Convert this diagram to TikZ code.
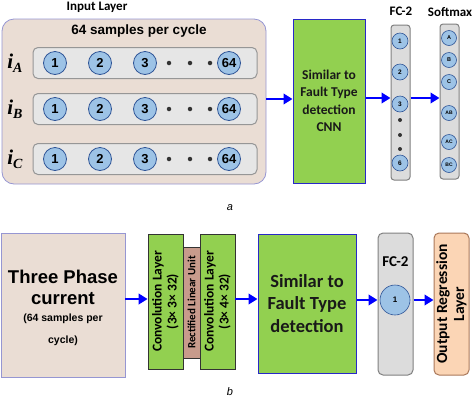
\documentclass[tikz,border=0pt]{standalone}
\usepackage{fontspec}
\setmainfont{Carlito}
\newfontfamily\arialfont{Liberation Sans}
\newfontfamily\timesfont{Liberation Serif}
\usetikzlibrary{arrows.meta}

\definecolor{panelFill}{RGB}{234,221,212}
\definecolor{panelEdge}{RGB}{150,150,210}
\definecolor{rowFill}{RGB}{230,230,230}
\definecolor{rowEdge}{RGB}{150,150,150}
\definecolor{sampleFill}{RGB}{157,195,230}
\definecolor{sampleEdge}{RGB}{47,85,151}
\definecolor{cnnGreen}{RGB}{146,208,80}
\definecolor{cnnEdge}{RGB}{40,40,200}
\definecolor{reluFill}{RGB}{200,155,140}
\definecolor{colFill}{RGB}{220,220,220}
\definecolor{colEdge}{RGB}{128,128,128}
\definecolor{outFill}{RGB}{251,213,181}
\definecolor{outEdge}{RGB}{170,120,90}
\definecolor{flowBlue}{RGB}{0,0,255}

\newcommand{\phaseLabel}[1]{{\timesfont\bfseries\itshape\fontsize{21}{21}\selectfont i\raisebox{-4pt}{\fontsize{14}{14}\selectfont #1}}}

\begin{document}
\begin{tikzpicture}[x=1pt, y=-1pt,
    panel/.style={draw=panelEdge, fill=panelFill, line width=0.8pt},
    rowbox/.style={draw=rowEdge, fill=rowFill, rounded corners=5pt, line width=1pt, minimum width=224pt, minimum height=31pt},
    sample/.style={circle, draw=sampleEdge, fill=sampleFill, line width=0.8pt, minimum size=23pt, inner sep=0pt, font=\arialfont\bfseries\fontsize{13}{13}\selectfont},
    neuron/.style={circle, draw=sampleEdge, fill=sampleFill, line width=0.6pt, minimum size=16pt, inner sep=0pt, font=\arialfont\bfseries\fontsize{6.5}{6.5}\selectfont},
    dotnode/.style={circle, fill=black!80, inner sep=0pt, minimum size=4.5pt},
    column/.style={draw=colEdge, fill=colFill, rounded corners=3pt, line width=1pt, minimum width=19pt, minimum height=155pt},
    cnnbox/.style={draw=cnnEdge, fill=cnnGreen, line width=1pt, align=center, text=black!90},
    convbox/.style={draw=black!80, fill=cnnGreen, line width=0.8pt, minimum width=35pt, minimum height=135pt},
    flow/.style={-{Triangle[length=9pt, width=10.5pt]}, flowBlue, line width=2.6pt},
    title/.style={font=\bfseries\fontsize{13}{13}\selectfont}]

    \useasboundingbox (0,0) rectangle (474,400);

    % --- Part a: input layer ---
    \node[title] (inputTitle) at (97,7) {Input Layer};
    \node[panel, rounded corners=12pt, minimum width=264pt, minimum height=165pt] (inputBox) at (134,101.5) {};
    \node[font=\arialfont\bfseries\fontsize{13.5}{13.5}\selectfont] (samplesTitle) at (139,31) {64 samples per cycle};

    \node[rowbox] (rowA) at (145,63) {};
    \node (labelA) at (15,63) {\phaseLabel{A}};
    \node[sample] (sampleAone) at (55,63) {1};
    \node[sample] (sampleAtwo) at (100,63) {2};
    \node[sample] (sampleAthree) at (145,63) {3};
    \node[dotnode] (dotAone) at (169,63) {};
    \node[dotnode] (dotAtwo) at (190,63) {};
    \node[dotnode] (dotAthree) at (210,63) {};
    \node[sample] (sampleAlast) at (229,63) {64};

    \node[rowbox] (rowB) at (145,109) {};
    \node (labelB) at (15,109) {\phaseLabel{B}};
    \node[sample] (sampleBone) at (55,109) {1};
    \node[sample] (sampleBtwo) at (100,109) {2};
    \node[sample] (sampleBthree) at (145,109) {3};
    \node[dotnode] (dotBone) at (169,109) {};
    \node[dotnode] (dotBtwo) at (190,109) {};
    \node[dotnode] (dotBthree) at (210,109) {};
    \node[sample] (sampleBlast) at (229,109) {64};

    \node[rowbox] (rowC) at (145,159) {};
    \node (labelC) at (15,159) {\phaseLabel{C}};
    \node[sample] (sampleCone) at (55,159) {1};
    \node[sample] (sampleCtwo) at (100,159) {2};
    \node[sample] (sampleCthree) at (145,159) {3};
    \node[dotnode] (dotCone) at (169,159) {};
    \node[dotnode] (dotCtwo) at (190,159) {};
    \node[dotnode] (dotCthree) at (210,159) {};
    \node[sample] (sampleClast) at (229,159) {64};
    % ---

    % --- Part a: CNN, FC-2 and softmax ---
    \node[cnnbox, minimum width=72pt, minimum height=164pt, font=\bfseries\fontsize{13.5}{17.5}\selectfont] (cnnBox) at (329,101) {Similar to\\Fault Type\\detection\\CNN};

    \node[title] (fcTitle) at (401,11) {FC-2};
    \node[column] (fcCol) at (400.5,102.5) {};
    \node[neuron] (fcOne) at (400,41) {1};
    \node[neuron] (fcTwo) at (400,72) {2};
    \node[neuron] (fcThree) at (400,104) {3};
    \node[dotnode, minimum size=4pt] (fcDotOne) at (400,120) {};
    \node[dotnode, minimum size=4pt] (fcDotTwo) at (400,135) {};
    \node[dotnode, minimum size=4pt] (fcDotThree) at (400,149) {};
    \node[neuron] (fcSix) at (400,163) {6};

    \node[title] (softTitle) at (450,12) {Softmax};
    \node[column] (softCol) at (449.5,101.5) {};
    \node[neuron, minimum size=15pt, font=\arialfont\bfseries\fontsize{5.5}{5.5}\selectfont] (softA) at (449,38) {A};
    \node[neuron, minimum size=15pt, font=\arialfont\bfseries\fontsize{5.5}{5.5}\selectfont] (softB) at (449,60) {B};
    \node[neuron, minimum size=15pt, font=\arialfont\bfseries\fontsize{5.5}{5.5}\selectfont] (softC) at (449,82) {C};
    \node[neuron, minimum size=15pt, font=\arialfont\bfseries\fontsize{5}{5}\selectfont] (softAB) at (449,113) {AB};
    \node[neuron, minimum size=15pt, font=\arialfont\bfseries\fontsize{5}{5}\selectfont] (softAC) at (449,142) {AC};
    \node[neuron, minimum size=15pt, font=\arialfont\bfseries\fontsize{5}{5}\selectfont] (softBC) at (449,165) {BC};

    \draw[flow] (inputBox.east |- 0,99) -- (cnnBox.west |- 0,99);
    \draw[flow] (cnnBox.east |- 0,98) -- (fcCol.west |- 0,98);
    \draw[flow] (fcCol.east |- 0,98) -- (softCol.west |- 0,98);
    \node[font=\arialfont\itshape\fontsize{11}{11}\selectfont] (captionA) at (230,208) {a};
    % ---

    % --- Part b: regression network ---
    \node[panel, minimum width=124pt, minimum height=144pt] (threeBox) at (63,305) {};
    \node[font=\arialfont\bfseries\fontsize{18.5}{21}\selectfont, align=center] (threeTitle) at (63,287) {Three Phase\\current};
    \node[font=\arialfont\bfseries\fontsize{10.5}{22}\selectfont, align=center] (threeNote) at (63,330) {(64 samples per\\cycle)};

    \node[convbox] (convOne) at (165.5,301.5) {};
    \node[rotate=90, align=center, font=\bfseries\fontsize{13.5}{15}\selectfont] (convOneText) at (convOne) {Convolution Layer\\(3× 3× 32)};
    \node[draw=black!80, fill=reluFill, line width=0.8pt, minimum width=17pt, minimum height=111pt] (reluBox) at (191.5,302.5) {};
    \node[rotate=90, font=\bfseries\fontsize{11}{11}\selectfont] (reluText) at (reluBox) {Rectified Linear Unit};
    \node[convbox] (convTwo) at (217.5,301.5) {};
    \node[rotate=90, align=center, font=\bfseries\fontsize{13.5}{15}\selectfont] (convTwoText) at (convTwo) {Convolution Layer\\(3× 4× 32)};

    \node[cnnbox, minimum width=98pt, minimum height=139pt, font=\bfseries\fontsize{18.5}{22.5}\selectfont] (similarBox) at (307,303.5) {Similar to\\Fault Type\\detection};

    \node[column, rounded corners=5pt, minimum width=35pt, minimum height=142pt] (fcBox) at (395.5,304) {};
    \node[font=\bfseries\fontsize{15}{15}\selectfont] (fcBoxTitle) at (395.5,262) {FC-2};
    \node[neuron, minimum size=30pt, font=\arialfont\bfseries\fontsize{8}{8}\selectfont] (fcNeuron) at (395,300) {1};

    \node[draw=outEdge, fill=outFill, rounded corners=5pt, line width=1pt, minimum width=35pt, minimum height=142pt] (outBox) at (451.5,304) {};
    \node[rotate=90, align=center, font=\bfseries\fontsize{15.5}{17}\selectfont] (outText) at (outBox) {Output Regression\\Layer};

    \draw[flow] (threeBox.east |- 0,299) -- (convOne.west |- 0,299);
    \draw[flow] (convTwo.east |- 0,299) -- (similarBox.west |- 0,299);
    \draw[flow] (similarBox.east |- fcNeuron) -- (fcBox.west |- fcNeuron);
    \draw[flow] (fcBox.east |- fcNeuron) -- (outBox.west |- fcNeuron);
    \node[font=\arialfont\itshape\fontsize{11}{11}\selectfont] (captionB) at (230,392) {b};
    % ---
\end{tikzpicture}
\end{document}
